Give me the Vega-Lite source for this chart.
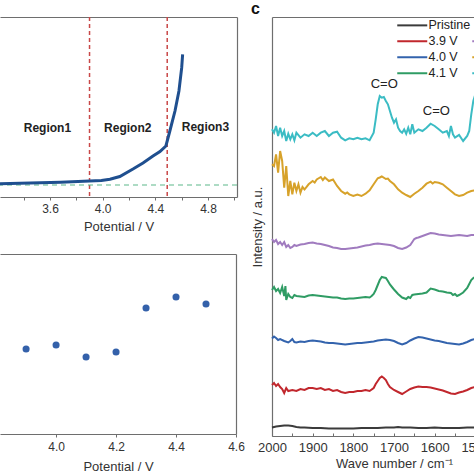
{
  "$schema": "https://vega.github.io/schema/vega-lite/v6.json",
  "padding": {"left": -6, "top": 0, "right": 0, "bottom": 0},
  "background": "white",
  "config": {
    "view": {"stroke": null},
    "font": "Liberation Sans",
    "axis": {"domainColor": "#6e6e6e", "tickColor": "#6e6e6e", "labelColor": "#333", "titleColor": "#333", "labelFontSize": 12, "titleFontSize": 13, "titleFontWeight": "normal", "grid": false, "domainWidth": 1.2, "labelFlush": false},
    "title": {"color": "#111"}
  },
  "datasets": {
    "curve": [
      {"V": 3.22, "I": 13.3}, {"V": 3.45, "I": 14}, {"V": 3.68, "I": 14.7}, {"V": 3.9, "I": 16}, {"V": 3.99, "I": 16.5},
      {"V": 4.055, "I": 17.7}, {"V": 4.13, "I": 20.5}, {"V": 4.23, "I": 28}, {"V": 4.306, "I": 34}, {"V": 4.382, "I": 41},
      {"V": 4.435, "I": 45.5}, {"V": 4.48, "I": 51}, {"V": 4.51, "I": 66}, {"V": 4.549, "I": 86}, {"V": 4.579, "I": 106},
      {"V": 4.6, "I": 129.3}, {"V": 4.607, "I": 142.7}
    ],
    "vlines": [{"V": 3.9}, {"V": 4.49}],
    "hline": [{"I": 12}],
    "regions": [
      {"V": 3.58, "I": 69, "t": "Region1"},
      {"V": 4.19, "I": 69, "t": "Region2"},
      {"V": 4.78, "I": 70, "t": "Region3"}
    ],
    "pts": [
      {"V": 3.9, "y": 85}, {"V": 4.0, "y": 89}, {"V": 4.1, "y": 77}, {"V": 4.2, "y": 82},
      {"V": 4.3, "y": 126}, {"V": 4.4, "y": 137}, {"V": 4.5, "y": 130}
    ],
    "notes": [
      {"w": 1724, "v": 352, "t": "C=O"},
      {"w": 1596, "v": 325, "t": "C=O"}
    ],
    "spec": [
      {"w": 2000, "s": "Pristine", "v": 8.5}, {"w": 1990, "s": "Pristine", "v": 9.5}, {"w": 1980, "s": "Pristine", "v": 10}, {"w": 1970, "s": "Pristine", "v": 10.5}, {"w": 1960, "s": "Pristine", "v": 10.5}, {"w": 1950, "s": "Pristine", "v": 10}, {"w": 1940, "s": "Pristine", "v": 9}, {"w": 1930, "s": "Pristine", "v": 8.5}, {"w": 1920, "s": "Pristine", "v": 8.5}, {"w": 1900, "s": "Pristine", "v": 8}, {"w": 1880, "s": "Pristine", "v": 8}, {"w": 1860, "s": "Pristine", "v": 7.5}, {"w": 1840, "s": "Pristine", "v": 7.5}, {"w": 1820, "s": "Pristine", "v": 7.5}, {"w": 1800, "s": "Pristine", "v": 7.5}, {"w": 1780, "s": "Pristine", "v": 8}, {"w": 1760, "s": "Pristine", "v": 8}, {"w": 1740, "s": "Pristine", "v": 8}, {"w": 1720, "s": "Pristine", "v": 8.5}, {"w": 1700, "s": "Pristine", "v": 8.5}, {"w": 1690, "s": "Pristine", "v": 9}, {"w": 1680, "s": "Pristine", "v": 8.5}, {"w": 1660, "s": "Pristine", "v": 8.5}, {"w": 1640, "s": "Pristine", "v": 8}, {"w": 1620, "s": "Pristine", "v": 8}, {"w": 1600, "s": "Pristine", "v": 8.5}, {"w": 1580, "s": "Pristine", "v": 8}, {"w": 1560, "s": "Pristine", "v": 8}, {"w": 1540, "s": "Pristine", "v": 8}, {"w": 1520, "s": "Pristine", "v": 8.5}, {"w": 1500, "s": "Pristine", "v": 8.5},

      {"w": 2000, "s": "3.9 V", "v": 51}, {"w": 1995, "s": "3.9 V", "v": 53}, {"w": 1990, "s": "3.9 V", "v": 50}, {"w": 1985, "s": "3.9 V", "v": 52}, {"w": 1980, "s": "3.9 V", "v": 49}, {"w": 1975, "s": "3.9 V", "v": 47}, {"w": 1970, "s": "3.9 V", "v": 43}, {"w": 1965, "s": "3.9 V", "v": 48}, {"w": 1960, "s": "3.9 V", "v": 45}, {"w": 1950, "s": "3.9 V", "v": 46}, {"w": 1940, "s": "3.9 V", "v": 45}, {"w": 1930, "s": "3.9 V", "v": 47}, {"w": 1920, "s": "3.9 V", "v": 46}, {"w": 1910, "s": "3.9 V", "v": 48}, {"w": 1900, "s": "3.9 V", "v": 48}, {"w": 1890, "s": "3.9 V", "v": 47}, {"w": 1880, "s": "3.9 V", "v": 48}, {"w": 1870, "s": "3.9 V", "v": 46}, {"w": 1860, "s": "3.9 V", "v": 47}, {"w": 1850, "s": "3.9 V", "v": 45}, {"w": 1840, "s": "3.9 V", "v": 46}, {"w": 1830, "s": "3.9 V", "v": 44}, {"w": 1820, "s": "3.9 V", "v": 43}, {"w": 1810, "s": "3.9 V", "v": 44}, {"w": 1800, "s": "3.9 V", "v": 44}, {"w": 1790, "s": "3.9 V", "v": 45}, {"w": 1780, "s": "3.9 V", "v": 45}, {"w": 1770, "s": "3.9 V", "v": 46}, {"w": 1760, "s": "3.9 V", "v": 45}, {"w": 1750, "s": "3.9 V", "v": 48}, {"w": 1745, "s": "3.9 V", "v": 52}, {"w": 1740, "s": "3.9 V", "v": 55}, {"w": 1735, "s": "3.9 V", "v": 58}, {"w": 1730, "s": "3.9 V", "v": 59.5}, {"w": 1725, "s": "3.9 V", "v": 58}, {"w": 1720, "s": "3.9 V", "v": 56}, {"w": 1715, "s": "3.9 V", "v": 52}, {"w": 1710, "s": "3.9 V", "v": 49}, {"w": 1700, "s": "3.9 V", "v": 46}, {"w": 1690, "s": "3.9 V", "v": 44}, {"w": 1680, "s": "3.9 V", "v": 42}, {"w": 1670, "s": "3.9 V", "v": 44.5}, {"w": 1660, "s": "3.9 V", "v": 47}, {"w": 1650, "s": "3.9 V", "v": 48.5}, {"w": 1640, "s": "3.9 V", "v": 49.5}, {"w": 1630, "s": "3.9 V", "v": 49}, {"w": 1620, "s": "3.9 V", "v": 49}, {"w": 1610, "s": "3.9 V", "v": 48.5}, {"w": 1600, "s": "3.9 V", "v": 47.5}, {"w": 1590, "s": "3.9 V", "v": 46.5}, {"w": 1580, "s": "3.9 V", "v": 45.5}, {"w": 1570, "s": "3.9 V", "v": 44}, {"w": 1560, "s": "3.9 V", "v": 42.5}, {"w": 1550, "s": "3.9 V", "v": 42}, {"w": 1540, "s": "3.9 V", "v": 43.5}, {"w": 1530, "s": "3.9 V", "v": 44.5}, {"w": 1520, "s": "3.9 V", "v": 46}, {"w": 1510, "s": "3.9 V", "v": 48}, {"w": 1500, "s": "3.9 V", "v": 49},

      {"w": 2000, "s": "4.0 V", "v": 97.5}, {"w": 1995, "s": "4.0 V", "v": 99.5}, {"w": 1990, "s": "4.0 V", "v": 98}, {"w": 1985, "s": "4.0 V", "v": 96}, {"w": 1980, "s": "4.0 V", "v": 97}, {"w": 1970, "s": "4.0 V", "v": 95}, {"w": 1960, "s": "4.0 V", "v": 93.5}, {"w": 1955, "s": "4.0 V", "v": 95}, {"w": 1950, "s": "4.0 V", "v": 97}, {"w": 1945, "s": "4.0 V", "v": 94}, {"w": 1940, "s": "4.0 V", "v": 93.5}, {"w": 1930, "s": "4.0 V", "v": 94.5}, {"w": 1920, "s": "4.0 V", "v": 94}, {"w": 1910, "s": "4.0 V", "v": 95}, {"w": 1900, "s": "4.0 V", "v": 95.5}, {"w": 1890, "s": "4.0 V", "v": 95}, {"w": 1880, "s": "4.0 V", "v": 94.5}, {"w": 1870, "s": "4.0 V", "v": 93.5}, {"w": 1860, "s": "4.0 V", "v": 93}, {"w": 1850, "s": "4.0 V", "v": 93}, {"w": 1840, "s": "4.0 V", "v": 92.5}, {"w": 1830, "s": "4.0 V", "v": 92}, {"w": 1820, "s": "4.0 V", "v": 91.5}, {"w": 1810, "s": "4.0 V", "v": 92}, {"w": 1800, "s": "4.0 V", "v": 92.5}, {"w": 1790, "s": "4.0 V", "v": 93}, {"w": 1780, "s": "4.0 V", "v": 93}, {"w": 1770, "s": "4.0 V", "v": 93.5}, {"w": 1760, "s": "4.0 V", "v": 94}, {"w": 1750, "s": "4.0 V", "v": 94.5}, {"w": 1740, "s": "4.0 V", "v": 95.5}, {"w": 1730, "s": "4.0 V", "v": 96}, {"w": 1720, "s": "4.0 V", "v": 96.5}, {"w": 1710, "s": "4.0 V", "v": 96}, {"w": 1700, "s": "4.0 V", "v": 95}, {"w": 1690, "s": "4.0 V", "v": 93}, {"w": 1680, "s": "4.0 V", "v": 91.5}, {"w": 1670, "s": "4.0 V", "v": 93}, {"w": 1660, "s": "4.0 V", "v": 95.5}, {"w": 1650, "s": "4.0 V", "v": 97.5}, {"w": 1640, "s": "4.0 V", "v": 99}, {"w": 1630, "s": "4.0 V", "v": 98.5}, {"w": 1620, "s": "4.0 V", "v": 97.5}, {"w": 1610, "s": "4.0 V", "v": 96.5}, {"w": 1600, "s": "4.0 V", "v": 95.5}, {"w": 1590, "s": "4.0 V", "v": 95}, {"w": 1580, "s": "4.0 V", "v": 94}, {"w": 1570, "s": "4.0 V", "v": 93}, {"w": 1560, "s": "4.0 V", "v": 92.5}, {"w": 1550, "s": "4.0 V", "v": 92}, {"w": 1540, "s": "4.0 V", "v": 91.5}, {"w": 1530, "s": "4.0 V", "v": 92.5}, {"w": 1520, "s": "4.0 V", "v": 94}, {"w": 1510, "s": "4.0 V", "v": 96}, {"w": 1500, "s": "4.0 V", "v": 97},

      {"w": 2000, "s": "4.1 V", "v": 146}, {"w": 1995, "s": "4.1 V", "v": 149}, {"w": 1990, "s": "4.1 V", "v": 145}, {"w": 1985, "s": "4.1 V", "v": 147}, {"w": 1980, "s": "4.1 V", "v": 143}, {"w": 1975, "s": "4.1 V", "v": 149}, {"w": 1970, "s": "4.1 V", "v": 140}, {"w": 1967, "s": "4.1 V", "v": 150}, {"w": 1965, "s": "4.1 V", "v": 136}, {"w": 1960, "s": "4.1 V", "v": 142}, {"w": 1955, "s": "4.1 V", "v": 139}, {"w": 1950, "s": "4.1 V", "v": 138}, {"w": 1945, "s": "4.1 V", "v": 141}, {"w": 1940, "s": "4.1 V", "v": 140}, {"w": 1930, "s": "4.1 V", "v": 139.5}, {"w": 1920, "s": "4.1 V", "v": 139}, {"w": 1910, "s": "4.1 V", "v": 140.5}, {"w": 1900, "s": "4.1 V", "v": 141}, {"w": 1890, "s": "4.1 V", "v": 140.5}, {"w": 1880, "s": "4.1 V", "v": 140}, {"w": 1870, "s": "4.1 V", "v": 139.5}, {"w": 1860, "s": "4.1 V", "v": 139}, {"w": 1850, "s": "4.1 V", "v": 138.5}, {"w": 1840, "s": "4.1 V", "v": 138.5}, {"w": 1830, "s": "4.1 V", "v": 137.5}, {"w": 1820, "s": "4.1 V", "v": 137}, {"w": 1810, "s": "4.1 V", "v": 137.5}, {"w": 1800, "s": "4.1 V", "v": 137.5}, {"w": 1790, "s": "4.1 V", "v": 138}, {"w": 1780, "s": "4.1 V", "v": 138.5}, {"w": 1770, "s": "4.1 V", "v": 139}, {"w": 1760, "s": "4.1 V", "v": 138.5}, {"w": 1755, "s": "4.1 V", "v": 140}, {"w": 1750, "s": "4.1 V", "v": 142}, {"w": 1745, "s": "4.1 V", "v": 146}, {"w": 1740, "s": "4.1 V", "v": 151}, {"w": 1735, "s": "4.1 V", "v": 156}, {"w": 1730, "s": "4.1 V", "v": 159}, {"w": 1725, "s": "4.1 V", "v": 158.5}, {"w": 1720, "s": "4.1 V", "v": 158}, {"w": 1715, "s": "4.1 V", "v": 155}, {"w": 1710, "s": "4.1 V", "v": 151.5}, {"w": 1705, "s": "4.1 V", "v": 149}, {"w": 1700, "s": "4.1 V", "v": 146.5}, {"w": 1690, "s": "4.1 V", "v": 142}, {"w": 1680, "s": "4.1 V", "v": 138.5}, {"w": 1670, "s": "4.1 V", "v": 137}, {"w": 1665, "s": "4.1 V", "v": 139}, {"w": 1660, "s": "4.1 V", "v": 138}, {"w": 1655, "s": "4.1 V", "v": 141}, {"w": 1650, "s": "4.1 V", "v": 141.5}, {"w": 1640, "s": "4.1 V", "v": 142}, {"w": 1630, "s": "4.1 V", "v": 142.5}, {"w": 1620, "s": "4.1 V", "v": 143.5}, {"w": 1610, "s": "4.1 V", "v": 147.5}, {"w": 1600, "s": "4.1 V", "v": 146.5}, {"w": 1590, "s": "4.1 V", "v": 145}, {"w": 1580, "s": "4.1 V", "v": 144.5}, {"w": 1570, "s": "4.1 V", "v": 143.5}, {"w": 1560, "s": "4.1 V", "v": 143}, {"w": 1555, "s": "4.1 V", "v": 141}, {"w": 1550, "s": "4.1 V", "v": 142}, {"w": 1545, "s": "4.1 V", "v": 140}, {"w": 1540, "s": "4.1 V", "v": 141}, {"w": 1530, "s": "4.1 V", "v": 143.5}, {"w": 1520, "s": "4.1 V", "v": 148}, {"w": 1515, "s": "4.1 V", "v": 152}, {"w": 1510, "s": "4.1 V", "v": 156}, {"w": 1505, "s": "4.1 V", "v": 158}, {"w": 1500, "s": "4.1 V", "v": 159},

      {"w": 2000, "s": "4.2 V", "v": 197}, {"w": 1995, "s": "4.2 V", "v": 194}, {"w": 1990, "s": "4.2 V", "v": 196}, {"w": 1985, "s": "4.2 V", "v": 192}, {"w": 1980, "s": "4.2 V", "v": 194}, {"w": 1975, "s": "4.2 V", "v": 191}, {"w": 1970, "s": "4.2 V", "v": 194}, {"w": 1965, "s": "4.2 V", "v": 189}, {"w": 1960, "s": "4.2 V", "v": 191}, {"w": 1955, "s": "4.2 V", "v": 188}, {"w": 1950, "s": "4.2 V", "v": 189}, {"w": 1945, "s": "4.2 V", "v": 191}, {"w": 1940, "s": "4.2 V", "v": 190}, {"w": 1930, "s": "4.2 V", "v": 191.5}, {"w": 1920, "s": "4.2 V", "v": 192}, {"w": 1910, "s": "4.2 V", "v": 193}, {"w": 1900, "s": "4.2 V", "v": 193.5}, {"w": 1890, "s": "4.2 V", "v": 192.5}, {"w": 1880, "s": "4.2 V", "v": 192}, {"w": 1870, "s": "4.2 V", "v": 191}, {"w": 1860, "s": "4.2 V", "v": 190}, {"w": 1850, "s": "4.2 V", "v": 188.5}, {"w": 1840, "s": "4.2 V", "v": 188}, {"w": 1830, "s": "4.2 V", "v": 187}, {"w": 1820, "s": "4.2 V", "v": 187}, {"w": 1810, "s": "4.2 V", "v": 187.5}, {"w": 1800, "s": "4.2 V", "v": 188}, {"w": 1790, "s": "4.2 V", "v": 188.5}, {"w": 1780, "s": "4.2 V", "v": 189.5}, {"w": 1770, "s": "4.2 V", "v": 190.5}, {"w": 1760, "s": "4.2 V", "v": 191}, {"w": 1750, "s": "4.2 V", "v": 192}, {"w": 1740, "s": "4.2 V", "v": 192.5}, {"w": 1730, "s": "4.2 V", "v": 192}, {"w": 1720, "s": "4.2 V", "v": 191.5}, {"w": 1710, "s": "4.2 V", "v": 191}, {"w": 1700, "s": "4.2 V", "v": 190}, {"w": 1690, "s": "4.2 V", "v": 188}, {"w": 1680, "s": "4.2 V", "v": 187}, {"w": 1670, "s": "4.2 V", "v": 188.5}, {"w": 1660, "s": "4.2 V", "v": 191}, {"w": 1655, "s": "4.2 V", "v": 194}, {"w": 1650, "s": "4.2 V", "v": 197}, {"w": 1645, "s": "4.2 V", "v": 198}, {"w": 1640, "s": "4.2 V", "v": 198.5}, {"w": 1630, "s": "4.2 V", "v": 200}, {"w": 1620, "s": "4.2 V", "v": 201.5}, {"w": 1610, "s": "4.2 V", "v": 203}, {"w": 1600, "s": "4.2 V", "v": 202.5}, {"w": 1590, "s": "4.2 V", "v": 201.5}, {"w": 1580, "s": "4.2 V", "v": 201}, {"w": 1570, "s": "4.2 V", "v": 200.5}, {"w": 1560, "s": "4.2 V", "v": 200}, {"w": 1550, "s": "4.2 V", "v": 200.5}, {"w": 1540, "s": "4.2 V", "v": 201}, {"w": 1530, "s": "4.2 V", "v": 200.5}, {"w": 1520, "s": "4.2 V", "v": 200}, {"w": 1510, "s": "4.2 V", "v": 201}, {"w": 1500, "s": "4.2 V", "v": 201},

      {"w": 2000, "s": "4.3 V", "v": 271.7}, {"w": 1995, "s": "4.3 V", "v": 270}, {"w": 1990, "s": "4.3 V", "v": 281.7}, {"w": 1985, "s": "4.3 V", "v": 263.3}, {"w": 1980, "s": "4.3 V", "v": 285}, {"w": 1975, "s": "4.3 V", "v": 275}, {"w": 1970, "s": "4.3 V", "v": 248.3}, {"w": 1965, "s": "4.3 V", "v": 270}, {"w": 1960, "s": "4.3 V", "v": 240}, {"w": 1955, "s": "4.3 V", "v": 255}, {"w": 1950, "s": "4.3 V", "v": 241.7}, {"w": 1945, "s": "4.3 V", "v": 253.3}, {"w": 1940, "s": "4.3 V", "v": 245}, {"w": 1935, "s": "4.3 V", "v": 251.7}, {"w": 1930, "s": "4.3 V", "v": 243.3}, {"w": 1925, "s": "4.3 V", "v": 249}, {"w": 1920, "s": "4.3 V", "v": 246.5}, {"w": 1910, "s": "4.3 V", "v": 251.7}, {"w": 1900, "s": "4.3 V", "v": 255}, {"w": 1895, "s": "4.3 V", "v": 253.5}, {"w": 1890, "s": "4.3 V", "v": 256.5}, {"w": 1880, "s": "4.3 V", "v": 259}, {"w": 1875, "s": "4.3 V", "v": 256}, {"w": 1870, "s": "4.3 V", "v": 258.5}, {"w": 1860, "s": "4.3 V", "v": 255}, {"w": 1850, "s": "4.3 V", "v": 256.5}, {"w": 1840, "s": "4.3 V", "v": 250}, {"w": 1830, "s": "4.3 V", "v": 245}, {"w": 1820, "s": "4.3 V", "v": 242.3}, {"w": 1815, "s": "4.3 V", "v": 243.5}, {"w": 1810, "s": "4.3 V", "v": 241.7}, {"w": 1800, "s": "4.3 V", "v": 240}, {"w": 1790, "s": "4.3 V", "v": 241.5}, {"w": 1780, "s": "4.3 V", "v": 240}, {"w": 1770, "s": "4.3 V", "v": 242.3}, {"w": 1760, "s": "4.3 V", "v": 245.7}, {"w": 1750, "s": "4.3 V", "v": 251.7}, {"w": 1740, "s": "4.3 V", "v": 257.7}, {"w": 1735, "s": "4.3 V", "v": 258.5}, {"w": 1730, "s": "4.3 V", "v": 259.5}, {"w": 1720, "s": "4.3 V", "v": 257}, {"w": 1715, "s": "4.3 V", "v": 257.5}, {"w": 1710, "s": "4.3 V", "v": 255}, {"w": 1700, "s": "4.3 V", "v": 251.7}, {"w": 1690, "s": "4.3 V", "v": 246.7}, {"w": 1680, "s": "4.3 V", "v": 243.3}, {"w": 1670, "s": "4.3 V", "v": 241}, {"w": 1660, "s": "4.3 V", "v": 239}, {"w": 1650, "s": "4.3 V", "v": 242.3}, {"w": 1640, "s": "4.3 V", "v": 245}, {"w": 1630, "s": "4.3 V", "v": 248.3}, {"w": 1620, "s": "4.3 V", "v": 252.3}, {"w": 1610, "s": "4.3 V", "v": 254.3}, {"w": 1605, "s": "4.3 V", "v": 252.5}, {"w": 1600, "s": "4.3 V", "v": 254}, {"w": 1590, "s": "4.3 V", "v": 253.3}, {"w": 1580, "s": "4.3 V", "v": 251.7}, {"w": 1570, "s": "4.3 V", "v": 248.3}, {"w": 1560, "s": "4.3 V", "v": 245}, {"w": 1550, "s": "4.3 V", "v": 241.7}, {"w": 1540, "s": "4.3 V", "v": 240}, {"w": 1530, "s": "4.3 V", "v": 241}, {"w": 1520, "s": "4.3 V", "v": 243.3}, {"w": 1510, "s": "4.3 V", "v": 245}, {"w": 1500, "s": "4.3 V", "v": 245.7},

      {"w": 2000, "s": "4.4 V", "v": 306.7}, {"w": 1995, "s": "4.4 V", "v": 303.3}, {"w": 1990, "s": "4.4 V", "v": 310}, {"w": 1985, "s": "4.4 V", "v": 300}, {"w": 1980, "s": "4.4 V", "v": 308.3}, {"w": 1975, "s": "4.4 V", "v": 300}, {"w": 1970, "s": "4.4 V", "v": 305}, {"w": 1965, "s": "4.4 V", "v": 295}, {"w": 1960, "s": "4.4 V", "v": 302.3}, {"w": 1955, "s": "4.4 V", "v": 296.7}, {"w": 1950, "s": "4.4 V", "v": 301.7}, {"w": 1945, "s": "4.4 V", "v": 295.7}, {"w": 1940, "s": "4.4 V", "v": 303.3}, {"w": 1930, "s": "4.4 V", "v": 298.3}, {"w": 1920, "s": "4.4 V", "v": 301.7}, {"w": 1910, "s": "4.4 V", "v": 300}, {"w": 1900, "s": "4.4 V", "v": 303.3}, {"w": 1890, "s": "4.4 V", "v": 300}, {"w": 1880, "s": "4.4 V", "v": 303.3}, {"w": 1870, "s": "4.4 V", "v": 305}, {"w": 1860, "s": "4.4 V", "v": 300}, {"w": 1850, "s": "4.4 V", "v": 303.3}, {"w": 1840, "s": "4.4 V", "v": 304.3}, {"w": 1830, "s": "4.4 V", "v": 298.3}, {"w": 1820, "s": "4.4 V", "v": 295.7}, {"w": 1810, "s": "4.4 V", "v": 297.7}, {"w": 1800, "s": "4.4 V", "v": 296.7}, {"w": 1790, "s": "4.4 V", "v": 298.3}, {"w": 1780, "s": "4.4 V", "v": 296.7}, {"w": 1770, "s": "4.4 V", "v": 297.7}, {"w": 1760, "s": "4.4 V", "v": 295.7}, {"w": 1750, "s": "4.4 V", "v": 303.3}, {"w": 1745, "s": "4.4 V", "v": 316.7}, {"w": 1740, "s": "4.4 V", "v": 331.7}, {"w": 1735, "s": "4.4 V", "v": 340}, {"w": 1730, "s": "4.4 V", "v": 338.3}, {"w": 1725, "s": "4.4 V", "v": 339}, {"w": 1720, "s": "4.4 V", "v": 335}, {"w": 1715, "s": "4.4 V", "v": 331.7}, {"w": 1710, "s": "4.4 V", "v": 325}, {"w": 1705, "s": "4.4 V", "v": 318.3}, {"w": 1700, "s": "4.4 V", "v": 313.3}, {"w": 1695, "s": "4.4 V", "v": 316.7}, {"w": 1690, "s": "4.4 V", "v": 308.3}, {"w": 1685, "s": "4.4 V", "v": 305}, {"w": 1680, "s": "4.4 V", "v": 303.3}, {"w": 1675, "s": "4.4 V", "v": 306.7}, {"w": 1670, "s": "4.4 V", "v": 302.3}, {"w": 1665, "s": "4.4 V", "v": 308.3}, {"w": 1660, "s": "4.4 V", "v": 301.7}, {"w": 1655, "s": "4.4 V", "v": 311.7}, {"w": 1650, "s": "4.4 V", "v": 303.3}, {"w": 1640, "s": "4.4 V", "v": 306.7}, {"w": 1630, "s": "4.4 V", "v": 305}, {"w": 1620, "s": "4.4 V", "v": 308.3}, {"w": 1610, "s": "4.4 V", "v": 312.3}, {"w": 1600, "s": "4.4 V", "v": 310}, {"w": 1590, "s": "4.4 V", "v": 306.7}, {"w": 1580, "s": "4.4 V", "v": 303.3}, {"w": 1570, "s": "4.4 V", "v": 305}, {"w": 1565, "s": "4.4 V", "v": 300}, {"w": 1560, "s": "4.4 V", "v": 310}, {"w": 1555, "s": "4.4 V", "v": 301.7}, {"w": 1550, "s": "4.4 V", "v": 298.3}, {"w": 1540, "s": "4.4 V", "v": 301}, {"w": 1530, "s": "4.4 V", "v": 295}, {"w": 1520, "s": "4.4 V", "v": 300}, {"w": 1515, "s": "4.4 V", "v": 305}, {"w": 1510, "s": "4.4 V", "v": 321.7}, {"w": 1505, "s": "4.4 V", "v": 335}, {"w": 1500, "s": "4.4 V", "v": 341.7}
    ]
  },
  "resolve": {"legend": {"color": "independent"}},
  "hconcat": [
    {
      "spacing": 21,
      "vconcat": [
        {
          "width": 237,
          "height": 180,
          "title": {"text": " ", "fontSize": 16, "offset": 0},
          "layer": [
            {
              "data": {"name": "vlines"},
              "mark": {"type": "rule", "color": "#c94848", "strokeWidth": 1.5, "strokeDash": [4, 3]},
              "encoding": {
                "x": {"field": "V", "type": "quantitative", "scale": {"domain": [3.22, 5.02], "nice": false, "zero": false}, "axis": {"orient": "top", "labels": false, "ticks": false, "title": null}}
              }
            },
            {
              "data": {"name": "hline"},
              "mark": {"type": "rule", "color": "#5db88a", "strokeWidth": 1.2, "strokeDash": [5, 4]},
              "encoding": {
                "y": {"field": "I", "type": "quantitative", "scale": {"domain": [0, 180], "nice": false}, "axis": {"orient": "right", "labels": false, "ticks": false, "title": null}}
              }
            },
            {
              "data": {"name": "curve"},
              "mark": {"type": "line", "color": "#1f4f8f", "strokeWidth": 3},
              "encoding": {
                "x": {"field": "V", "type": "quantitative", "scale": {"domain": [3.22, 5.02], "nice": false, "zero": false}, "axis": {"orient": "bottom", "values": [3.4, 3.6, 3.8, 4.0, 4.2, 4.4, 4.6, 4.8, 5.0], "format": ".1f", "labelExpr": "(datum.label == '3.6' || datum.label == '4.0' || datum.label == '4.4' || datum.label == '4.8') ? datum.label : ''", "tickSize": 3, "labelPadding": 3, "title": "Potential / V", "titlePadding": 6}},
                "y": {"field": "I", "type": "quantitative", "scale": {"domain": [0, 180], "nice": false}, "axis": null}
              }
            },
            {
              "data": {"name": "regions"},
              "mark": {"type": "text", "fontWeight": "bold", "fontSize": 12, "color": "#222"},
              "encoding": {
                "x": {"field": "V", "type": "quantitative", "scale": {"domain": [3.22, 5.02], "nice": false, "zero": false}, "axis": null},
                "y": {"field": "I", "type": "quantitative", "scale": {"domain": [0, 180], "nice": false}, "axis": null},
                "text": {"field": "t"}
              }
            }
          ],
          "resolve": {"axis": {"x": "independent", "y": "independent"}}
        },
        {
          "width": 236,
          "height": 180,
          "layer": [
            {
              "data": {"name": "pts"},
              "mark": {"type": "circle", "size": 50, "color": "#3461aa", "opacity": 1},
              "encoding": {
                "x": {"field": "V", "type": "quantitative", "scale": {"domain": [3.813, 4.6], "nice": false, "zero": false}, "axis": {"values": [4.0, 4.2, 4.4, 4.6], "format": ".1f", "tickSize": 3, "labelPadding": 4, "title": "Potential / V", "titlePadding": 8}},
                "y": {"field": "y", "type": "quantitative", "scale": {"domain": [0, 180], "nice": false}, "axis": null}
              }
            },
            {
              "data": {"name": "pts"},
              "mark": {"type": "circle", "opacity": 0},
              "encoding": {
                "x": {"field": "V", "type": "quantitative", "scale": {"domain": [3.813, 4.6], "nice": false, "zero": false}, "axis": {"orient": "top", "labels": false, "ticks": false, "title": null}},
                "y": {"field": "y", "type": "quantitative", "scale": {"domain": [0, 180], "nice": false}, "axis": {"orient": "right", "labels": false, "ticks": false, "title": null}}
              }
            }
          ],
          "resolve": {"axis": {"x": "independent", "y": "independent"}}
        }
      ]
    },
    {
      "width": 244,
      "height": 419,
      "title": {"text": "c", "anchor": "start", "fontSize": 16, "fontWeight": "bold", "offset": 0},
      "layer": [
        {
          "data": {"name": "spec"},
          "mark": {"type": "line", "strokeWidth": 2},
          "encoding": {
            "x": {"field": "w", "type": "quantitative", "scale": {"domain": [1400, 2000], "reverse": true, "nice": false, "zero": false}, "axis": {"values": [2000, 1950, 1900, 1850, 1800, 1750, 1700, 1650, 1600, 1550, 1500, 1450, 1400], "format": "d", "labelExpr": "datum.value % 100 == 0 ? datum.label : ''", "tickSize": -3, "labelPadding": 8, "labelFontSize": 13, "title": "Wave number / cm⁻¹", "titlePadding": 3}},
            "y": {"field": "v", "type": "quantitative", "scale": {"domain": [0, 419], "nice": false}, "axis": {"labels": false, "ticks": false, "title": "Intensity / a.u.", "titlePadding": 8}},
            "color": {
              "field": "s", "type": "nominal",
              "scale": {"domain": ["Pristine", "3.9 V", "4.0 V", "4.1 V", "4.2 V", "4.3 V", "4.4 V", " "], "range": ["#3b3b3b", "#c1272d", "#3363ad", "#2f9c64", "#a07bbf", "#d7a22a", "#3bbcc4", "rgba(0,0,0,0)"]},
              "legend": {"orient": "none", "legendX": 124, "legendY": 2, "title": null, "columns": 2, "columnPadding": -7, "rowPadding": 3, "symbolType": "M-1,0H5", "symbolSize": 100, "symbolStrokeWidth": 2, "labelOffset": 20, "labelFontSize": 12.5, "labelColor": "#222", "padding": 0, "values": ["Pristine", "3.9 V", "4.0 V", "4.1 V", " ", "4.2 V", "4.3 V", "4.4 V"]}
            }
          }
        },
        {
          "data": {"name": "notes"},
          "mark": {"type": "text", "fontSize": 13, "color": "#222"},
          "encoding": {
            "x": {"field": "w", "type": "quantitative", "scale": {"domain": [1400, 2000], "reverse": true, "nice": false, "zero": false}, "axis": {"orient": "top", "labels": false, "ticks": false, "title": null, "domain": true}},
            "y": {"field": "v", "type": "quantitative", "scale": {"domain": [0, 419], "nice": false}, "axis": null},
            "text": {"field": "t"}
          }
        }
      ],
      "resolve": {"axis": {"x": "independent", "y": "independent"}}
    }
  ],
  "spacing": 6
}
